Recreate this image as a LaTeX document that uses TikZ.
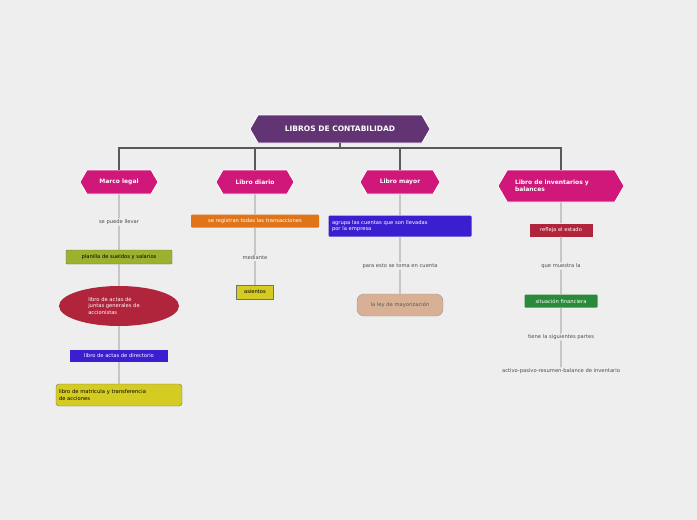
\documentclass[tikz,border=0pt]{standalone}
\usepackage{fontspec}
\setmainfont{DejaVu Sans}
\usetikzlibrary{shapes.symbols,shapes.geometric}
\definecolor{bg}{HTML}{EEEEEE}
\definecolor{rootc}{HTML}{633474}
\definecolor{pinkc}{HTML}{D0187A}
\definecolor{olive}{HTML}{9AB22E}
\definecolor{crim}{HTML}{B0243C}
\definecolor{bluec}{HTML}{3A1FD0}
\definecolor{yel}{HTML}{D4CC22}
\definecolor{oran}{HTML}{E07418}
\definecolor{tan}{HTML}{D8B096}
\definecolor{grn}{HTML}{2A8A3A}
\tikzset{
 x=1pt,y=-1pt,
 hexa/.style={signal, signal to=east and west, signal pointer angle=120, draw=white, line width=0.8pt, font=\fontsize{6}{7}\selectfont\bfseries, text=white, inner sep=2pt},
 lab/.style={font=\fontsize{5.2}{6.2}\selectfont, text=black!70, fill=bg, inner sep=1pt},
 boxx/.style={font=\fontsize{5.2}{6.2}\selectfont, rounded corners=1pt, inner sep=0pt, align=left},
 conn/.style={draw=black!30, line width=1.2pt},
 bus/.style={draw=black!65, line width=1.2pt}
}
\begin{document}
\begin{tikzpicture}
\fill[bg] (0,0) rectangle (697,520);
\useasboundingbox (0,0) rectangle (697,520);
% main nodes
\node[hexa, fill=rootc, minimum width=180, minimum height=28, font=\fontsize{7.5}{9}\selectfont\bfseries] (root) at (340,129) {LIBROS DE CONTABILIDAD};
\node[hexa, fill=pinkc, minimum width=78, minimum height=24] (m1) at (119,182) {Marco legal};
\node[hexa, fill=pinkc, minimum width=78, minimum height=24] (m2) at (255,182) {Libro diario};
\node[hexa, fill=pinkc, minimum width=80, minimum height=24] (m3) at (400,182) {Libro mayor};
\node[hexa, fill=pinkc, minimum width=126, minimum height=32, align=left, text width=92] (m4) at (561,186) {Libro de inventarios y\\balances};
% bus
\coordinate (b0) at (340,148);
\coordinate (b1) at (119,148);
\coordinate (b4) at (561,148);
\draw[bus] (root.south) -- (b0);
\draw[bus] (m1.north) -- (b1) -- (b4) -- (m4.north);
\draw[bus] (m2.north) -- (m2.north |- b0);
\draw[bus] (m3.north) -- (m3.north |- b0);
% column 1
\node[lab] (a1) at (119,222) {se puede llevar};
\node[boxx, fill=olive, draw=black!55, minimum width=106, minimum height=14, align=center] (a2) at (119,257) {planilla de sueldos y salarios};
\node[ellipse, fill=crim, minimum width=120, minimum height=40, inner sep=0pt] (a3) at (119,306) {};
\node[font=\fontsize{5.2}{6.2}\selectfont, text=white, align=left] at (114,306) {libro de actas de\\juntas generales de\\accionistas};
\node[boxx, fill=bluec, text=white, minimum width=98, minimum height=12, align=center, rounded corners=0pt] (a4) at (119,356) {libro de actas de directorio};
\node[boxx, fill=yel, draw=black!55, rounded corners=3pt, minimum width=126, minimum height=22, text width=120] (a5) at (119,395) {libro de matricula y transferencia\\de acciones};
\draw[conn] (m1) -- (a1) -- (a2) -- (a3) -- (a4) -- (a5);
% column 2
\node[boxx, fill=oran, text=white, minimum width=128, minimum height=13, align=center] (c1) at (255,221) {se registran todas las transacciones};
\node[lab] (c2) at (255,258) {mediante};
\node[boxx, fill=yel, draw=black!55, minimum width=37, minimum height=14, align=center, rounded corners=0pt] (c3) at (255,292) {asientos};
\draw[conn] (m2) -- (c1) -- (c2) -- (c3);
% column 3
\node[boxx, fill=bluec, text=white, minimum width=143, minimum height=21, text width=136] (d1) at (400,226) {agrupa las cuentas que son llevadas\\por la empresa};
\node[lab] (d2) at (400,266) {para esto se toma en cuenta};
\node[boxx, fill=tan, draw=black!40, text=black!65, rounded corners=7pt, minimum width=86, minimum height=22, align=center] (d3) at (400,305) {la ley de mayorización};
\draw[conn] (m3) -- (d1) -- (d2) -- (d3);
% column 4
\node[boxx, fill=crim, text=white, minimum width=63, minimum height=13, align=center, rounded corners=0pt] (e1) at (561,230) {refleja el estado};
\node[lab] (e2) at (561,266) {que muestra la};
\node[boxx, fill=grn, text=white, minimum width=73, minimum height=13, align=center] (e3) at (561,301) {situación financiera};
\node[lab] (e4) at (561,337) {tiene la siguientes partes};
\node[lab] (e5) at (561,371) {activo-pasivo-resumen-balance de inventario};
\draw[conn] (m4) -- (e1) -- (e2) -- (e3) -- (e4) -- (e5);
\end{tikzpicture}
\end{document}
